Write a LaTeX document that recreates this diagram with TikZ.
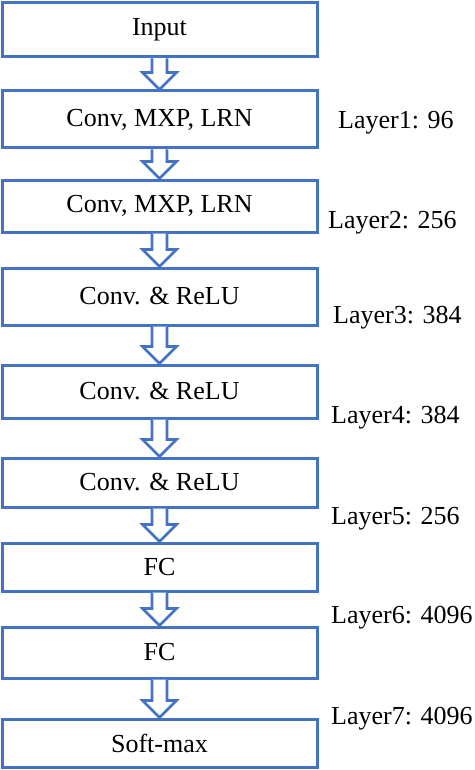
\documentclass[tikz,border=0pt]{standalone}
\usepackage{fontspec}
\setmainfont{Liberation Serif}
\usepackage{tikz}
\usetikzlibrary{calc}
\definecolor{boxblue}{RGB}{68,114,196}
% hollow block arrow from the bottom of one box to the top of the next
\newcommand{\flowarrow}[2]{%
  \draw[line width=2.6pt,boxblue,fill=white,line join=miter]
    ($(#1.south)+(-7.5,0)$) -- ($(#2.north)+(-7.5,-17)$) -- ($(#2.north)+(-17,-17)$)
    -- (#2.north) -- ($(#2.north)+(17,-17)$) -- ($(#2.north)+(7.5,-17)$)
    -- ($(#1.south)+(7.5,0)$);}

\begin{document}
\begin{tikzpicture}[x=1pt,y=-1pt,
  layerbox/.style={draw=boxblue,line width=3pt,minimum width=315pt,inner sep=0pt,
    font=\fontsize{26}{31}\selectfont},
  layerlabel/.style={anchor=base west,inner sep=0pt,font=\fontsize{26}{31}\selectfont}]
  \useasboundingbox (0,0) rectangle (474,770);
  \node[layerbox,minimum height=54pt] (input) at (159.5,30) {Input};
  \node[layerbox,minimum height=57pt] (conva) at (159.5,119.5) {Conv, MXP, LRN};
  \node[layerbox,minimum height=52pt] (convb) at (159.5,206) {Conv, MXP, LRN};
  \node[layerbox,minimum height=57pt] (relua) at (159.5,296.5) {Conv. \& ReLU};
  \node[layerbox,minimum height=53pt] (relub) at (159.5,391.5) {Conv. \& ReLU};
  \node[layerbox,minimum height=49pt] (reluc) at (159.5,482.5) {Conv. \& ReLU};
  \node[layerbox,minimum height=48pt] (fca) at (159.5,567) {FC};
  \node[layerbox,minimum height=51pt] (fcb) at (159.5,652.5) {FC};
  \node[layerbox,minimum height=48pt] (softmax) at (159.5,743) {Soft-max};
  \flowarrow{input}{conva}
  \flowarrow{conva}{convb}
  \flowarrow{convb}{relua}
  \flowarrow{relua}{relub}
  \flowarrow{relub}{reluc}
  \flowarrow{reluc}{fca}
  \flowarrow{fca}{fcb}
  \flowarrow{fcb}{softmax}
  \node[layerlabel] (labela) at (338,129) {Layer1: 96};
  \node[layerlabel] (labelb) at (328,228) {Layer2: 256};
  \node[layerlabel] (labelc) at (333,323) {Layer3: 384};
  \node[layerlabel] (labeld) at (331,423) {Layer4: 384};
  \node[layerlabel] (labele) at (331,524) {Layer5: 256};
  \node[layerlabel] (labelf) at (331,623) {Layer6: 4096};
  \node[layerlabel] (labelg) at (331,724) {Layer7: 4096};
\end{tikzpicture}
\end{document}
